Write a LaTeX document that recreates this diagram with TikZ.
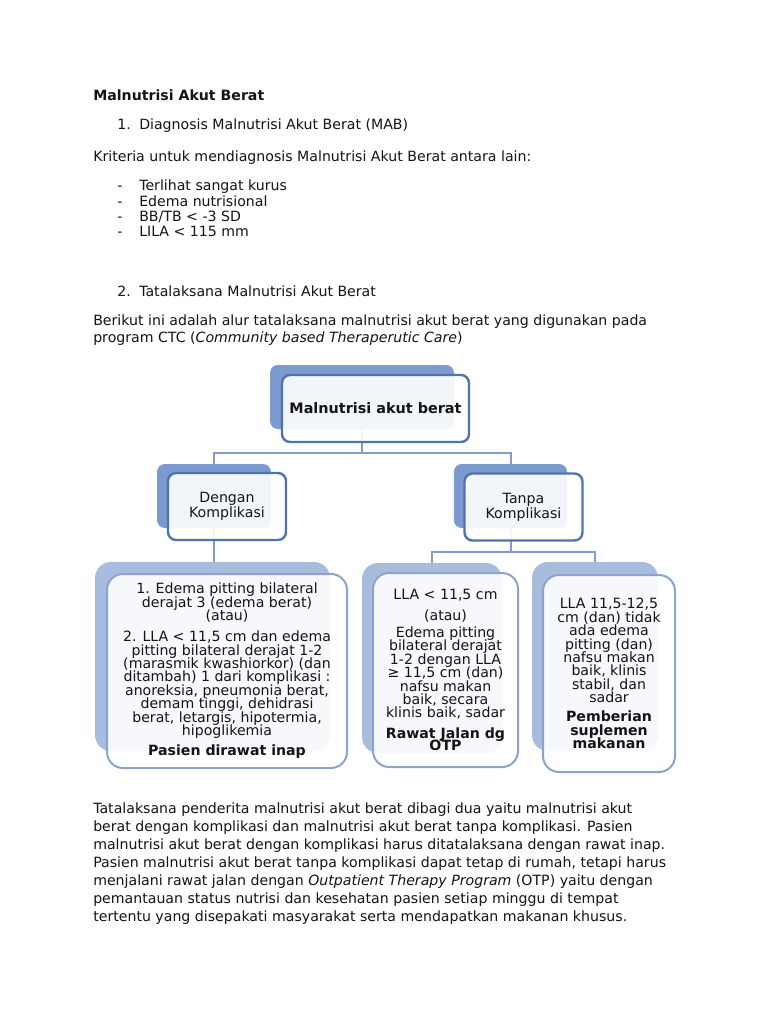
\documentclass[tikz,border=0pt]{standalone}
\usepackage{fontspec}
\setmainfont{DejaVu Sans}
\usepackage{xcolor}
\usepackage{tikz}
\definecolor{smartblue}{RGB}{123,155,207}
\definecolor{smartedge}{RGB}{80,115,175}
\definecolor{paleblue}{RGB}{168,189,222}
\definecolor{paleedge}{RGB}{140,164,205}
\definecolor{linkblue}{RGB}{130,157,202}
\definecolor{inkgray}{RGB}{20,20,20}
\newcommand{\bodyfont}{\fontsize{10.6}{13.5}\selectfont}
\newcommand{\boxfont}{\fontsize{10.6}{10.1}\selectfont\lineskiplimit=-20pt\lineskip=0pt}

\begin{document}
\begin{tikzpicture}[x=0.75pt, y=-0.75pt,
  body/.style={anchor=base west, inner sep=0pt, text=inkgray, font=\bodyfont},
  topback/.style={rectangle, rounded corners=6pt, fill=smartblue, inner sep=0pt},
  topfront/.style={rectangle, rounded corners=6pt, draw=smartedge, line width=1.8pt, fill=white, fill opacity=0.9, text opacity=1, inner sep=0pt, align=center, text=inkgray, font=\boxfont},
  lowback/.style={rectangle, rounded corners=12pt, fill=paleblue, inner sep=0pt},
  lowfront/.style={rectangle, rounded corners=12pt, draw=paleedge, line width=1.5pt, fill=white, fill opacity=0.9, text opacity=1, inner sep=0pt, align=center, text=inkgray, font=\boxfont},
  conn/.style={draw=linkblue, line width=1.5pt}]
\fill[white] (0,0) rectangle (768,1024);
\useasboundingbox (0,0) rectangle (768,1024);

% page text above the chart
\node[body, font=\bodyfont\bfseries] (title) at (93,100) {Malnutrisi Akut Berat};
\node[body] (num1) at (117,129.3) {1.};
\node[body] (head1) at (139,129.3) {Diagnosis Malnutrisi Akut Berat (MAB)};
\node[body] (crit) at (93,161.7) {Kriteria untuk mendiagnosis Malnutrisi Akut Berat antara lain:};
\foreach \yy/\txt in {190/{Terlihat sangat kurus}, 206/{Edema nutrisional}, 221/{BB/TB < -3 SD}, 236/{LILA < 115 mm}} {
  \node[body] (dash\yy) at (117,\yy) {-};
  \node[body] (item\yy) at (139,\yy) {\txt};
}
\node[body] (num2) at (117,296.7) {2.};
\node[body] (head2) at (139,296.7) {Tatalaksana Malnutrisi Akut Berat};
\node[body] (intro1) at (93,325) {Berikut ini adalah alur tatalaksana malnutrisi akut berat yang digunakan pada};
\node[body] (intro2) at (93,342.7) {program CTC (\textit{Community based Theraperutic Care})};

% chart: back plates
\node[topback, minimum width=138pt, minimum height=48pt] (mabback) at (362,397) {};
\node[topback, minimum width=85.5pt, minimum height=48pt] (denganback) at (214,496) {};
\node[topback, minimum width=85pt, minimum height=48pt] (tanpaback) at (510.5,496) {};
\node[lowback, minimum width=176.25pt, minimum height=141.75pt] (inapback) at (212.5,656.5) {};
\node[lowback, minimum width=105pt, minimum height=142.5pt] (otpback) at (432,658) {};
\node[lowback, minimum width=94.5pt, minimum height=141.75pt] (supback) at (595,656.5) {};

% connectors
\coordinate (hubtop) at (362,453);
\coordinate (hublow) at (510.5,552);
\draw[conn] (mabback.south) -- (hubtop) -| (denganback.north);
\draw[conn] (hubtop) -| (tanpaback.north);
\draw[conn] (denganback.south) -- (denganback.south |- inapback.north);
\draw[conn] (tanpaback.south) -- (hublow) -| (otpback.north);
\draw[conn] (hublow) -| (supback.north);

% chart: front cards
\node[topfront, minimum width=140.25pt, minimum height=50.25pt, font=\fontsize{10.8}{11}\selectfont\bfseries] (mab) at (375.5,408.5) {Malnutrisi akut berat};
\node[topfront, minimum width=88.5pt, minimum height=50.25pt] (dengan) at (227,506.5) {Dengan\\[1.3pt]Komplikasi};
\node[topfront, minimum width=88.5pt, minimum height=50.25pt] (tanpa) at (523.5,507) {Tanpa\\[1.3pt]Komplikasi};
\node[lowfront, minimum width=180pt, minimum height=145.5pt] (inap) at (227,671) {1. Edema pitting bilateral\\derajat 3 (edema berat)\\(atau)\\[5.5pt]2. LLA < 11,5 cm dan edema\\pitting bilateral derajat 1-2\\(marasmik kwashiorkor) (dan\\ditambah) 1 dari komplikasi :\\anoreksia, pneumonia berat,\\demam tinggi, dehidrasi\\berat, letargis, hipotermia,\\hipoglikemia\\[5pt]\textbf{Pasien dirawat inap}};
\node[lowfront, minimum width=108.75pt, minimum height=145.5pt] (otp) at (445.5,670) {LLA < 11,5 cm\\[5.5pt](atau)\\[2.5pt]Edema pitting\\bilateral derajat\\1-2 dengan LLA\\≥ 11,5 cm (dan)\\nafsu makan\\baik, secara\\klinis baik, sadar\\[5pt]\textbf{Rawat Jalan dg}\\[-0.8pt]\textbf{OTP}};
\node[lowfront, minimum width=99pt, minimum height=147.75pt] (sup) at (609,673.5) {LLA 11,5-12,5\\cm (dan) tidak\\ada edema\\pitting (dan)\\nafsu makan\\baik, klinis\\stabil, dan\\sadar\\[4pt]\textbf{Pemberian}\\\textbf{suplemen}\\\textbf{makanan}};

% page text below the chart
\foreach \i/\txt in {0/{Tatalaksana penderita malnutrisi akut berat dibagi dua yaitu malnutrisi akut},
  1/{berat dengan komplikasi dan malnutrisi akut berat tanpa komplikasi. Pasien},
  2/{malnutrisi akut berat dengan komplikasi harus ditatalaksana dengan rawat inap.},
  3/{Pasien malnutrisi akut berat tanpa komplikasi dapat tetap di rumah, tetapi harus},
  4/{menjalani rawat jalan dengan \textit{Outpatient Therapy Program} (OTP) yaitu dengan},
  5/{pemantauan status nutrisi dan kesehatan pasien setiap minggu di tempat},
  6/{tertentu yang disepakati masyarakat serta mendapatkan makanan khusus.}} {
  \node[body] (para\i) at (93,813+18*\i) {\txt};
}
\end{tikzpicture}
\end{document}
